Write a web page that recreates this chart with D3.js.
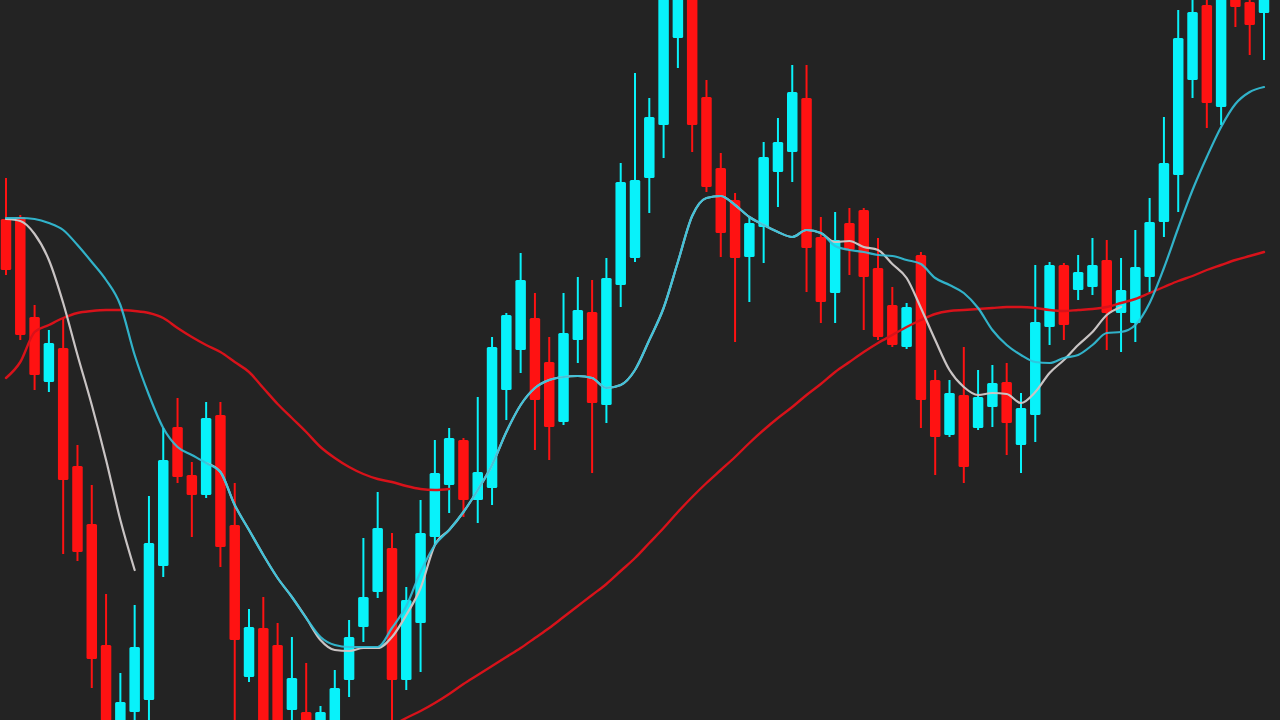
<!DOCTYPE html>
<html>
<head>
<meta charset="utf-8">
<script src="https://cdn.jsdelivr.net/npm/d3@7"></script>
<style>
  html, body { margin: 0; padding: 0; background: #232323; overflow: hidden; }
  svg { display: block; }
</style>
</head>
<body>
<svg id="chart" width="1280" height="720"></svg>
<script>
// ---- Data (price units) ----
const openP = [581,583,483,418,452,334,276,155,65,88,
  100,234,373,325,305,385,275,123,172,155,
  90,88,70,70,120,173,208,252,120,177,
  263,315,360,300,312,410,450,482,438,378,
  460,488,395,515,542,622,675,762,820,703,
  632,600,543,573,628,648,702,563,507,577,
  590,532,495,453,545,420,365,405,372,393,
  418,355,385,473,535,510,513,540,487,477,
  523,578,625,720,795,693,805,798,787];
const highP = [622,585,495,470,482,355,315,206,127,195,
  304,372,402,338,398,398,317,191,203,177,
  163,137,94,130,180,262,308,267,213,300,
  360,372,362,403,463,487,547,507,463,507,
  523,520,542,637,727,702,830,830,830,720,
  647,607,583,658,682,735,735,583,588,592,
  592,562,513,497,548,430,420,453,430,435,
  437,407,535,538,537,545,562,560,542,570,
  602,683,790,800,805,830,810,805,820];
const lowP = [525,460,410,408,246,239,112,55,55,78,
  78,223,317,263,302,233,70,118,65,60,
  80,60,60,60,103,158,202,75,110,128,
  255,287,283,277,295,380,427,350,340,375,
  437,327,377,493,538,587,642,732,648,608,
  543,458,498,537,593,618,508,477,477,525,
  470,460,453,451,372,325,363,317,370,373,
  345,327,358,455,460,500,505,450,448,458,
  507,563,588,702,672,675,773,745,740];
const closeP = [530,465,425,457,320,248,141,65,98,153,
  257,340,323,305,382,253,160,173,75,70,
  122,70,88,112,163,203,272,120,200,267,
  327,362,300,328,453,485,520,400,373,467,
  490,397,522,618,620,683,820,820,675,613,
  567,542,577,643,658,708,552,498,560,550,
  523,463,455,493,400,363,407,333,403,417,
  377,392,478,535,475,528,535,487,510,533,
  578,637,762,788,697,820,793,775,810];

// moving-average lines (null = not drawn)
const maCyan = [582,582,581,577,570,555,538,520,495,445,
  405,372,353,345,337,328,295,270,245,222,
  203,182,163,155,153,153,153,172,194,228,
  255,270,288,310,335,368,395,412,420,423,
  424,422,412,415,430,460,492,538,584,602,
  604,595,583,575,568,563,570,567,554,550,
  548,545,544,540,536,522,515,507,492,470,
  455,445,438,437,442,445,455,467,468,475,
  497,532,572,610,643,673,696,708,713];
const maWhite = [581,579,566,540,497,445,395,340,280,230,
  null,null,null,null,337,328,295,270,245,222,
  203,182,160,150,149,152,152,163,185,212,
  255,270,288,310,335,368,395,412,420,423,
  424,422,412,415,430,460,492,538,584,602,
  604,595,583,575,568,563,570,567,558,559,
  553,550,536,522,492,460,430,413,405,407,
  406,397,408,427,440,455,468,485,493,null,
  null,null,null,null,null,null,null,null,null];
const maRedA = [422,438,468,475,482,487,489,490,490,489,
  487,482,472,463,455,448,438,428,412,396,
  382,368,353,342,333,326,321,318,314,311,
  310,311,null,null,null,null,null,null,null,null,
  null,null,null,null,null,null,null,null,null,null,
  null,null,null,null,null,null,null,null,null,null,
  null,null,null,null,null,null,null,null,null,null,
  null,null,null,null,null,null,null,null,null,null,
  null,null,null,null,null,null,null,null,null];
const maRedB = [null,null,null,null,null,null,null,null,null,null,
  null,null,null,null,null,null,null,null,null,null,
  null,null,null,null,null,null,null,74,82,89,
  97,106,116,125,134,143,152,162,172,183,
  194,205,216,229,242,257,272,288,303,317,
  330,343,357,370,382,393,405,416,428,438,
  448,457,465,473,480,486,489,490,491,492,
  493,493,492,490,489,490,491,493,497,501,
  507,513,519,524,530,535,540,544,548];

// ---- Drawing ----
const W = 1280, H = 720;
const svg = d3.select("#chart");
svg.append("rect").attr("width", W).attr("height", H).attr("fill", "#232323");

const n = openP.length;
const idx = d3.range(n);
const x = d3.scaleLinear().domain([0, n - 1]).range([6, 1264]);
const y = d3.scaleLinear().domain([80, 800]).range([H, 0]);

const UP = "#08f2fa", DOWN = "#ff1212";
const bodyW = 10.5;

const candles = svg.append("g").selectAll("g").data(idx).join("g");
candles.append("line")
  .attr("x1", i => x(i)).attr("x2", i => x(i))
  .attr("y1", i => y(highP[i])).attr("y2", i => y(lowP[i]))
  .attr("stroke", i => closeP[i] >= openP[i] ? UP : DOWN)
  .attr("stroke-width", 2);
candles.append("rect")
  .attr("x", i => x(i) - bodyW / 2)
  .attr("width", bodyW)
  .attr("y", i => y(Math.max(openP[i], closeP[i])))
  .attr("height", i => Math.max(2, Math.abs(y(openP[i]) - y(closeP[i]))))
  .attr("rx", 1.5)
  .attr("fill", i => closeP[i] >= openP[i] ? UP : DOWN);

function drawLine(arr, color, width, opacity) {
  const gen = d3.line()
    .defined(i => arr[i] != null)
    .x(i => x(i))
    .y(i => y(arr[i]))
    .curve(d3.curveMonotoneX);
  svg.append("path")
    .attr("d", gen(idx))
    .attr("fill", "none")
    .attr("stroke", color)
    .attr("stroke-width", width)
    .attr("stroke-opacity", opacity)
    .attr("stroke-linecap", "round");
}
drawLine(maRedA, "#d8121a", 2.4, 1);
drawLine(maRedB, "#d8121a", 2.4, 1);
drawLine(maWhite, "#c9c4c4", 2.2, 1);
drawLine(maCyan, "#33c2dc", 2.2, 0.9);
</script>
</body>
</html>
